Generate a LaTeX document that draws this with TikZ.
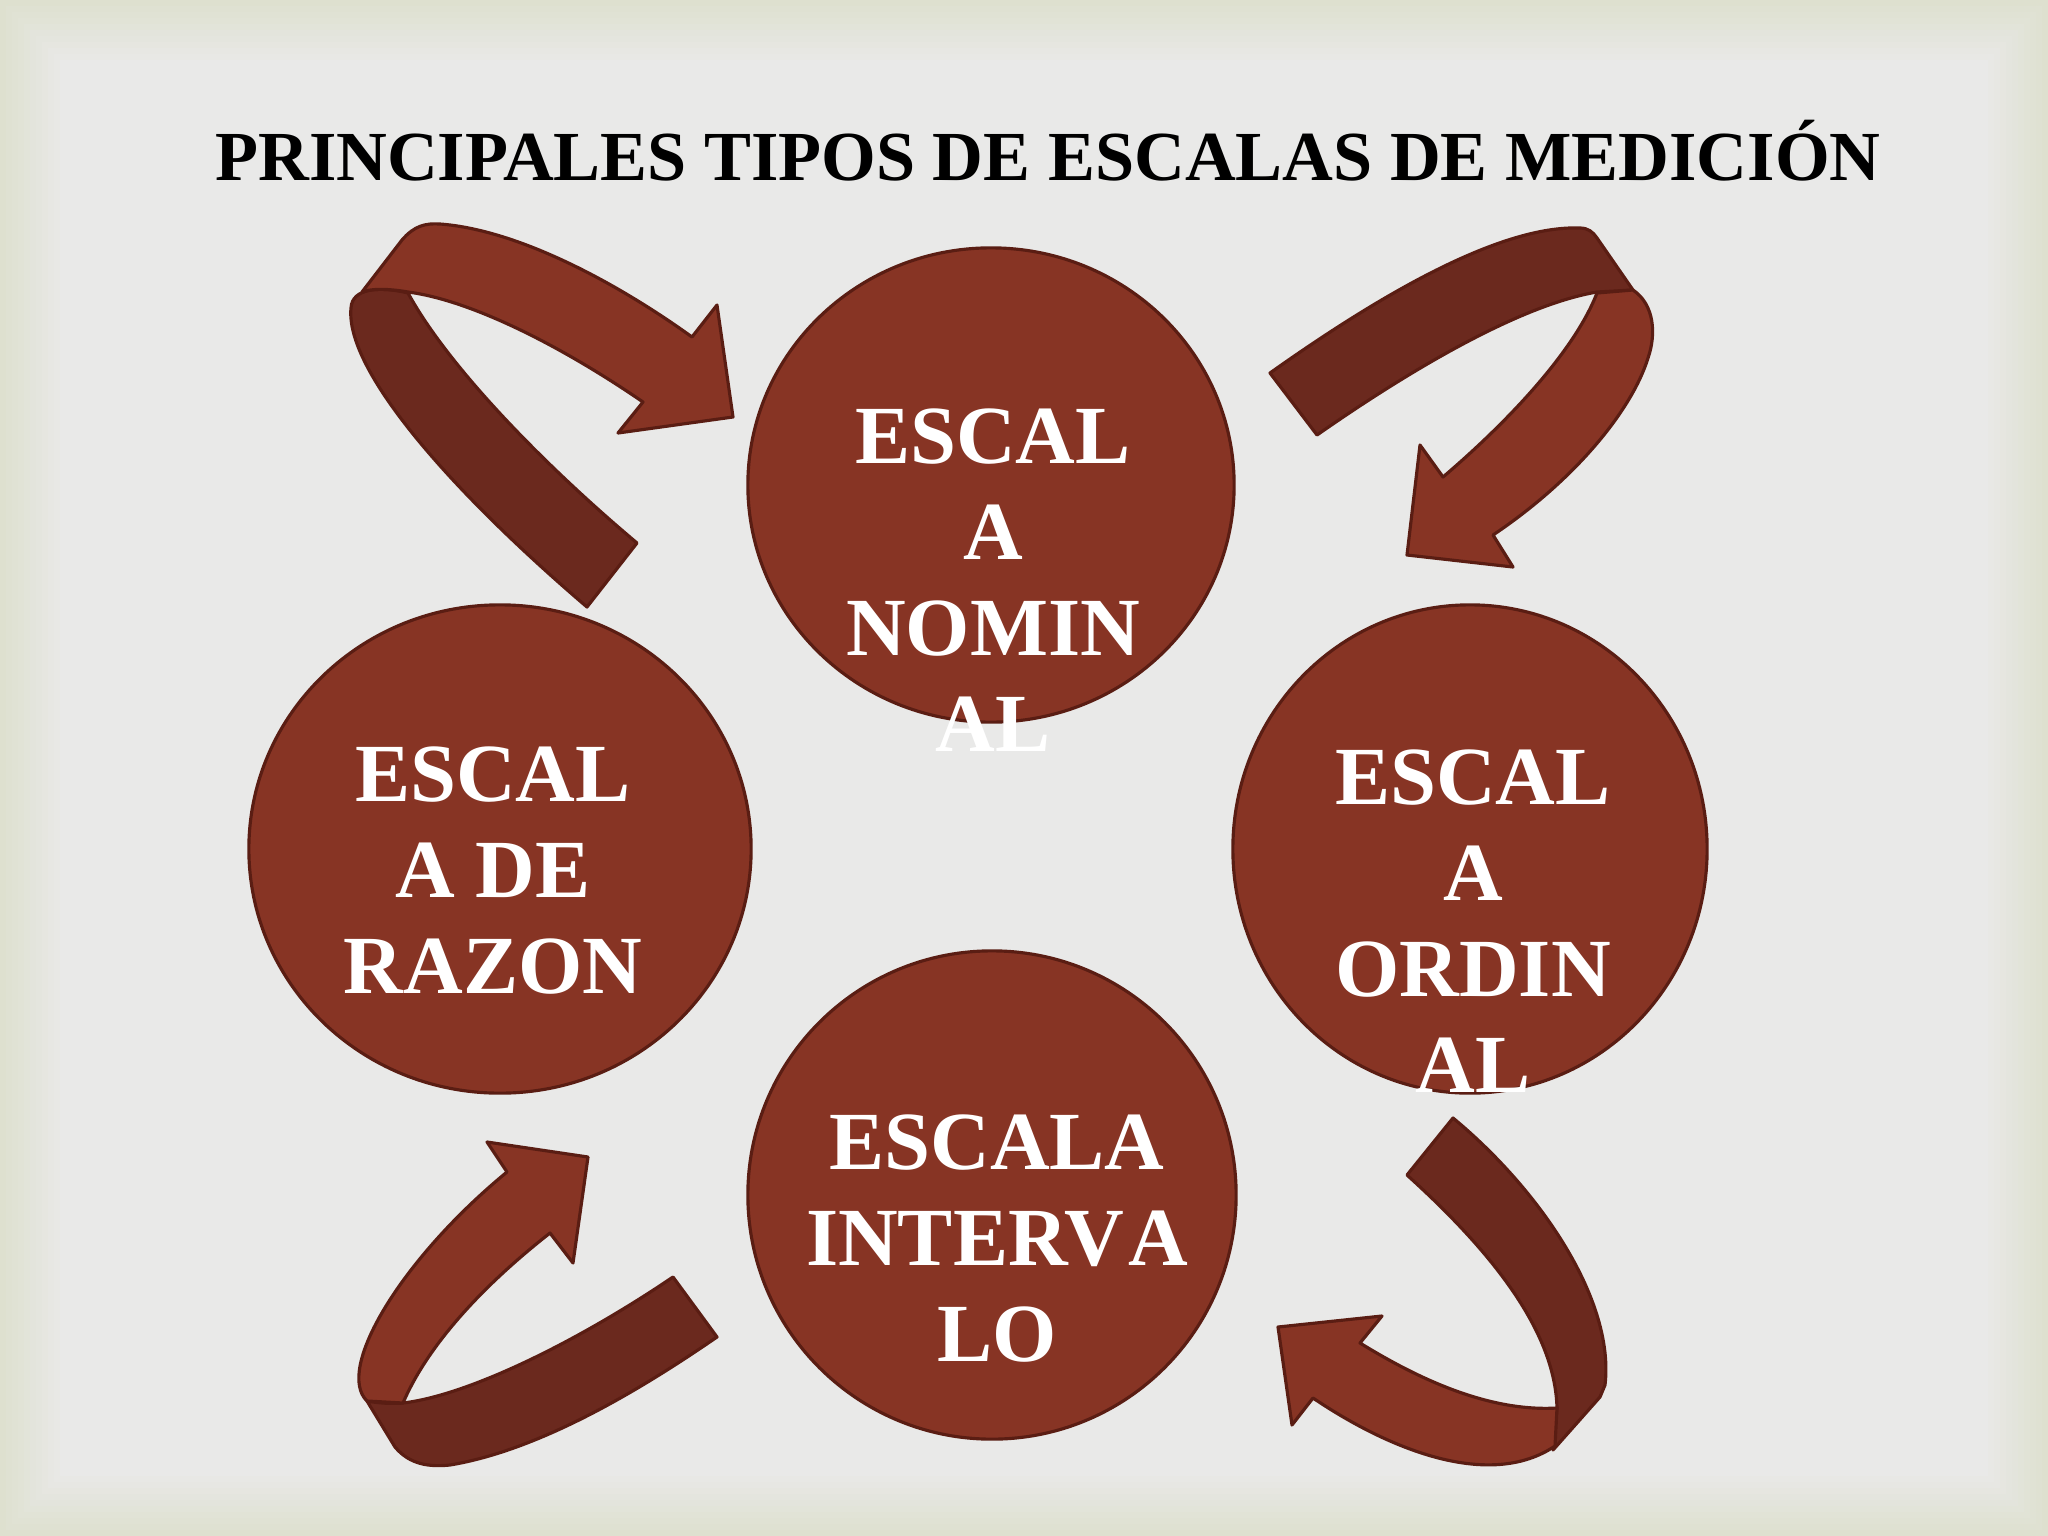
\documentclass[tikz,border=0pt]{standalone}
\usepackage{fontspec}
\setmainfont{Liberation Serif}
\usetikzlibrary{shapes.geometric}

\definecolor{brick}{HTML}{873424}
\definecolor{brickdark}{HTML}{6B291E}
\definecolor{brickline}{HTML}{5A1D13}
\definecolor{slidecore}{HTML}{E9E9E8}
\definecolor{sliderim}{HTML}{DEE0CF}

\begin{document}
\begin{tikzpicture}[x=0.01cm, y=-0.01cm, line join=round,
		ball/.style={ellipse, fill=brick, draw=brickline, line width=0.9pt, inner sep=0pt},
		tag/.style={text=white, align=center, inner sep=0pt,
			font=\bfseries\fontsize{23.5}{27.3}\selectfont},
		ribbonfront/.style={fill=brick, draw=brickline, line width=0.9pt},
		ribbonback/.style={fill=brickdark, draw=brickline, line width=0.9pt}]

		% slide background
		\useasboundingbox (0,0) rectangle (2048,1536);
		\foreach \i [evaluate=\i as \pct using int(10*\i)] in {0,...,10}
			\fill[slidecore!\pct!sliderim] (6*\i,6*\i) rectangle (2048-6*\i,1536-6*\i);

		\node[font=\bfseries\fontsize{20}{24}\selectfont, anchor=base] (title) at (1048,180)
			{PRINCIPALES TIPOS DE ESCALAS DE MEDICIÓN};

		% the four scales
		\node[ball, minimum width=4.86cm, minimum height=4.74cm] (nominal)   at (991,485)  {};
		\node[ball, minimum width=5.02cm, minimum height=4.88cm] (razon)     at (500,849)  {};
		\node[ball, minimum width=4.74cm, minimum height=4.88cm] (ordinal)   at (1470,849) {};
		\node[ball, minimum width=4.88cm, minimum height=4.88cm] (intervalo) at (992,1195) {};

		\node[tag] (nominal-t)   at (993,580)  {ESCAL\\A\\NOMIN\\AL};
		\node[tag] (razon-t)     at (493,871)  {ESCAL\\A DE\\RAZON};
		\node[tag] (ordinal-t)   at (1473,921) {ESCAL\\A\\ORDIN\\AL};
		\node[tag] (intervalo-t) at (997,1239) {ESCALA\\INTERV\kern1pt A\\LO};

		% upper left ribbon
		\filldraw[ribbonback] (587,607) -- (637,543) .. controls (550,470) and (450,370) .. (408,293)
			.. controls (380,286) and (352,288) .. (351,308) .. controls (345,370) and (450,490) .. (587,607) -- cycle;
		\filldraw[ribbonfront] (362,292) -- (402,240) .. controls (414,226) and (425,223) .. (440,224)
			.. controls (520,230) and (620,285) .. (692,337) -- (717,305) -- (733,417) -- (618,433) -- (643,402)
			.. controls (560,345) and (470,300) .. (408,292) .. controls (385,288) and (370,289) .. (362,292) -- cycle;

		% upper right ribbon
		\filldraw[ribbonback] (1317,435) -- (1270,373) .. controls (1380,295) and (1500,225) .. (1580,228)
			.. controls (1588,228) and (1593,232) .. (1597,238) -- (1633,290) -- (1597,292)
			.. controls (1520,305) and (1410,370) .. (1317,435) -- cycle;
		\filldraw[ribbonfront] (1597,293) -- (1633,290) .. controls (1655,305) and (1656,335) .. (1648,358)
			.. controls (1632,410) and (1575,480) .. (1493,535) -- (1513,567) -- (1407,555) -- (1420,445) -- (1443,477)
			.. controls (1510,420) and (1575,350) .. (1597,293) -- cycle;

		% lower left ribbon
		\filldraw[ribbonback] (717,1337) -- (673,1277) .. controls (580,1340) and (470,1395) .. (403,1403)
			.. controls (390,1404) and (378,1403) .. (367,1401) -- (395,1447)
			.. controls (410,1465) and (430,1467) .. (450,1465) .. controls (540,1450) and (640,1390) .. (717,1337) -- cycle;
		\filldraw[ribbonfront] (507,1172) -- (487,1142) -- (588,1157) -- (573,1263) -- (550,1233)
			.. controls (490,1280) and (430,1340) .. (403,1403) -- (367,1401)
			.. controls (335,1370) and (400,1260) .. (507,1172) -- cycle;

		% lower right ribbon
		\filldraw[ribbonback] (1407,1175) -- (1453,1118) .. controls (1540,1190) and (1615,1300) .. (1605,1385)
			-- (1600,1397) -- (1553,1450) -- (1557,1408) .. controls (1555,1330) and (1490,1250) .. (1407,1175) -- cycle;
		\filldraw[ribbonfront] (1557,1408) -- (1555,1446) .. controls (1490,1490) and (1390,1450) .. (1313,1398)
			-- (1292,1425) -- (1278,1327) -- (1382,1316) -- (1360,1343)
			.. controls (1420,1380) and (1490,1412) .. (1557,1408) -- cycle;
\end{tikzpicture}
\end{document}
